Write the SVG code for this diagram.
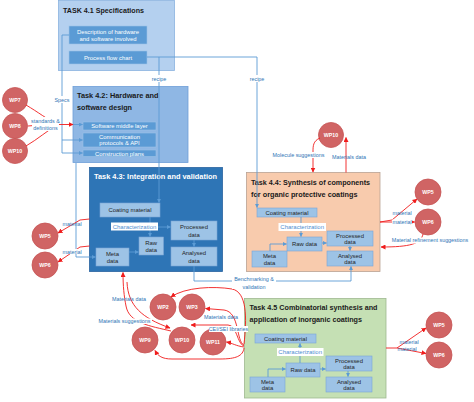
<svg xmlns="http://www.w3.org/2000/svg" width="474" height="402" viewBox="0 0 474 402">
<style>
text{font-family:"Liberation Sans",Arial,sans-serif}
.title{font-weight:bold;font-size:7.4px;fill:#1a1a1a}
.titlew{font-weight:bold;font-size:7.4px;fill:#ffffff}
.ib{fill:#5b9bd5;stroke:#9dc3e6;stroke-width:0.6}
.ibt{font-size:5.9px;fill:#ffffff;text-anchor:middle}
.lb{fill:#9dc3e6;stroke:#7aa6d6;stroke-width:0.6}
.lbt{font-size:5.9px;fill:#1f1f1f;text-anchor:middle}
.ch{fill:#ffffff}
.cht{font-size:6px;fill:#4f8fd0;text-anchor:middle}
.wp{fill:#d06464;stroke:#c65454;stroke-width:0.8}
.wpt{font-size:5.3px;font-weight:bold;fill:#ffffff;text-anchor:middle}
.bl{fill:none;stroke:#5b9bd5;stroke-width:0.9}
.rd{fill:none;stroke:#f01c1c;stroke-width:0.9}
.lab{font-size:5.4px;fill:#2e75b6;text-anchor:middle}
.bg{fill:#ffffff}
</style>
<defs>
<marker id="ab" viewBox="0 0 10 10" refX="9" refY="5" markerWidth="4" markerHeight="4" markerUnits="userSpaceOnUse" orient="auto"><path d="M0,0 L10,5 L0,10 z" fill="#5b9bd5"/></marker>
<marker id="ar" viewBox="0 0 10 10" refX="9" refY="5" markerWidth="5" markerHeight="5" markerUnits="userSpaceOnUse" orient="auto"><path d="M0,0 L10,5 L0,10 z" fill="#f01c1c"/></marker>
</defs>
<rect width="474" height="402" fill="#ffffff"/>

<g id="task41">
<rect x="58.5" y="0.5" width="116" height="70" fill="#b4d0ef" stroke="#8ab2df" stroke-width="0.8"/>
<text class="title" x="63" y="13" textLength="81" lengthAdjust="spacingAndGlyphs">TASK 4.1 Specifications</text>
<rect class="ib" x="69" y="26" width="78" height="18"/>
<text class="ibt" x="108" y="33.5">Description of hardware</text>
<text class="ibt" x="108" y="41.3">and software involved</text>
<rect class="ib" x="69" y="51" width="78" height="13"/>
<text class="ibt" x="108" y="59.6">Process flow chart</text>
</g>

<g id="task42">
<rect x="73" y="86.5" width="115" height="76" fill="#8fb7e4" stroke="#6e9fd8" stroke-width="0.8"/>
<text class="title" x="77" y="97.5" textLength="81.5" lengthAdjust="spacingAndGlyphs">Task 4.2: Hardware and</text>
<text class="title" x="77" y="109.5" textLength="55" lengthAdjust="spacingAndGlyphs">software design</text>
<rect class="ib" x="83" y="122" width="73" height="8"/>
<text class="ibt" x="119.5" y="128.3">Software middle layer</text>
<rect class="ib" x="83" y="133" width="73" height="14"/>
<text class="ibt" x="119.5" y="139">Communication</text>
<text class="ibt" x="119.5" y="145.4">protocols &amp; API</text>
<rect class="ib" x="83" y="150" width="73" height="6.5"/>
<text class="ibt" x="119.5" y="155.6">Construction plans</text>
</g>

<g id="task43">
<rect x="89.5" y="167.5" width="133" height="104" fill="#2e75b6" stroke="#2a64a0" stroke-width="0.8"/>
<text class="titlew" x="94" y="178.6" textLength="123" lengthAdjust="spacingAndGlyphs">Task 4.3: Integration and validation</text>
<rect class="lb" x="100" y="203" width="60" height="14" stroke="none"/>
<text class="lbt" x="130" y="212.2">Coating material</text>
<rect class="lb" x="139" y="237" width="24.5" height="18" stroke="none"/>
<text class="lbt" x="151.2" y="244.5">Raw</text>
<text class="lbt" x="151.2" y="251.7">data</text>
<rect class="lb" x="171" y="221" width="46" height="19" stroke="none"/>
<text class="lbt" x="194" y="229">Processed</text>
<text class="lbt" x="194" y="236.5">data</text>
<rect class="lb" x="171" y="247" width="46" height="19" stroke="none"/>
<text class="lbt" x="194" y="255">Analysed</text>
<text class="lbt" x="194" y="262.5">data</text>
<rect class="lb" x="96" y="248" width="33" height="18" stroke="none"/>
<text class="lbt" x="112.5" y="255.5">Meta</text>
<text class="lbt" x="112.5" y="263">data</text>
</g>

<g id="task44">
<rect x="246.5" y="172.5" width="133.5" height="99" fill="#f8cbad" stroke="#b8a293" stroke-width="0.8"/>
<text class="title" x="251" y="185" textLength="119" lengthAdjust="spacingAndGlyphs">Task 4.4: Synthesis of components</text>
<text class="title" x="251" y="196.5" textLength="106.5" lengthAdjust="spacingAndGlyphs">for organic protective coatings</text>
<rect class="lb" x="257" y="208" width="60" height="9"/>
<text class="lbt" x="287" y="214.8">Coating material</text>
<rect class="lb" x="287" y="237" width="35" height="14"/>
<text class="lbt" x="304.5" y="246">Raw data</text>
<rect class="lb" x="327" y="231" width="46" height="15"/>
<text class="lbt" x="350" y="237.5">Processed</text>
<text class="lbt" x="350" y="244">data</text>
<rect class="lb" x="252" y="251" width="35" height="16"/>
<text class="lbt" x="269.5" y="257.7">Meta</text>
<text class="lbt" x="269.5" y="264.7">data</text>
<rect class="lb" x="327" y="251" width="46" height="15"/>
<text class="lbt" x="350" y="257.5">Analysed</text>
<text class="lbt" x="350" y="264.2">data</text>
</g>

<g id="task45">
<rect x="244.5" y="298.5" width="141.5" height="99.5" fill="#c5e0b4" stroke="#9fb890" stroke-width="0.8"/>
<text class="title" x="249.5" y="310" textLength="128" lengthAdjust="spacingAndGlyphs">Task 4.5 Combinatorial synthesis and</text>
<text class="title" x="249.5" y="321.5" textLength="112.5" lengthAdjust="spacingAndGlyphs">application of inorganic coatings</text>
<rect class="lb" x="255" y="334" width="61" height="9"/>
<text class="lbt" x="285.5" y="340.8">Coating material</text>
<rect class="lb" x="286" y="363" width="34" height="14"/>
<text class="lbt" x="303" y="372">Raw data</text>
<rect class="lb" x="326" y="356" width="46" height="15"/>
<text class="lbt" x="349" y="362.5">Processed</text>
<text class="lbt" x="349" y="369.2">data</text>
<rect class="lb" x="250" y="377" width="35" height="15"/>
<text class="lbt" x="267.5" y="383.5">Meta</text>
<text class="lbt" x="267.5" y="390.3">data</text>
<rect class="lb" x="326" y="377" width="46" height="15"/>
<text class="lbt" x="349" y="383.5">Analysed</text>
<text class="lbt" x="349" y="390.3">data</text>
</g>

<g id="wp7-left"><circle class="wp" cx="15" cy="100" r="12.5"/><text class="wpt" x="15" y="102">WP7</text></g>
<g id="wp8-left"><circle class="wp" cx="15" cy="126" r="12.5"/><text class="wpt" x="15" y="128">WP8</text></g>
<g id="wp10-left"><circle class="wp" cx="15" cy="151" r="12.5"/><text class="wpt" x="15" y="153">WP10</text></g>
<g id="wp10-top"><circle class="wp" cx="331" cy="135" r="12.5"/><text class="wpt" x="331" y="137">WP10</text></g>
<g id="wp5-right"><circle class="wp" cx="428" cy="192" r="13"/><text class="wpt" x="428" y="194">WP5</text></g>
<g id="wp6-right"><circle class="wp" cx="428" cy="222" r="13"/><text class="wpt" x="428" y="224">WP6</text></g>
<g id="wp5-left"><circle class="wp" cx="45" cy="236" r="13"/><text class="wpt" x="45" y="238">WP5</text></g>
<g id="wp6-left"><circle class="wp" cx="45" cy="265" r="13"/><text class="wpt" x="45" y="267">WP6</text></g>
<g id="wp2"><circle class="wp" cx="163" cy="307" r="13"/><text class="wpt" x="163" y="309">WP2</text></g>
<g id="wp3"><circle class="wp" cx="192" cy="307" r="13"/><text class="wpt" x="192" y="309">WP3</text></g>
<g id="wp9"><circle class="wp" cx="145" cy="340" r="13"/><text class="wpt" x="145" y="342">WP9</text></g>
<g id="wp10-bottom"><circle class="wp" cx="182" cy="340" r="13"/><text class="wpt" x="182" y="342">WP10</text></g>
<g id="wp11"><circle class="wp" cx="213" cy="342" r="13"/><text class="wpt" x="213" y="344">WP11</text></g>
<g id="wp5-br"><circle class="wp" cx="439" cy="325" r="13"/><text class="wpt" x="439" y="327">WP5</text></g>
<g id="wp6-br"><circle class="wp" cx="439" cy="355" r="13"/><text class="wpt" x="439" y="357">WP6</text></g>

<g id="connectors">
<!-- blue -->
<path class="bl" d="M69,35 H62 V153 H82.5" marker-end="url(#ab)"/>
<path class="bl" d="M62,140 H82.5" marker-end="url(#ab)"/>
<path class="bl" d="M73,124.5 H82.5" marker-end="url(#ab)"/>
<path class="bl" d="M147,57 H257 V207.5" marker-end="url(#ab)"/>
<path class="bl" d="M159,57 V202.5" marker-end="url(#ab)"/>
<path class="bl" d="M76,163 V257 H95.5" marker-end="url(#ab)"/>
<path class="bl" d="M194,266 V281 H351 V266.5" marker-end="url(#ab)"/>
<path class="bl" d="M150,217 V236.5" marker-end="url(#ab)"/>
<path class="bl" d="M158,227 H170.5" marker-end="url(#ab)"/>
<path class="bl" d="M129,252 H138.5" marker-end="url(#ab)"/>
<path class="bl" d="M194,240 V246.5" marker-end="url(#ab)"/>
<path class="bl" d="M301,217 V236.5" marker-end="url(#ab)"/>
<path class="bl" d="M270,251 V244 H286.5" marker-end="url(#ab)"/>
<path class="bl" d="M322,243 H326.5" marker-end="url(#ab)"/>
<path class="bl" d="M350,246 V250.5" marker-end="url(#ab)"/>
<path class="bl" d="M300,363 V343.5" marker-end="url(#ab)"/>
<path class="bl" d="M268,377 V369 H285.5" marker-end="url(#ab)"/>
<path class="bl" d="M320,369 H325.5" marker-end="url(#ab)"/>
<path class="bl" d="M348,371 V376.5" marker-end="url(#ab)"/>
<!-- red -->
<path class="rd" d="M26,105 C38,112 48,120 58,124.5"/>
<path class="rd" d="M28,126 C40,125 50,124.5 58,124.5"/>
<path class="rd" d="M26,146 C38,139 48,130 58,124.5"/>
<path class="rd" d="M58,124.5 H73" stroke-width="1.6" marker-end="url(#ar)"/>
<path class="rd" d="M320,138 C313,141 313,146 313,152 V172" marker-end="url(#ar)"/>
<path class="rd" d="M346,172.5 V137.5" marker-end="url(#ar)"/>
<path class="rd" d="M380,222 L392,220 L417,199" marker-end="url(#ar)"/>
<path class="rd" d="M380,222 H414.5" marker-end="url(#ar)"/>
<path class="rd" d="M423,234 C421,244 410,247 381,247" marker-end="url(#ar)"/>
<path class="rd" d="M89.5,219 L80,220 L58,233" marker-end="url(#ar)"/>
<path class="rd" d="M89.5,246 L80,247 L58,262" marker-end="url(#ar)"/>
<path class="rd" d="M244,344 C247,318 247,292 232,289 C214,286 185,287 171,297" marker-end="url(#ar)"/>
<path class="rd" d="M244,345 C236,342 240,312 224,310 L205.5,308.5" marker-end="url(#ar)"/>
<path class="rd" d="M244,346 C237,344 237,325 228,325 L191,325" marker-end="url(#ar)"/>
<path class="rd" d="M244,347 C236,346 232,343 226.5,342" marker-end="url(#ar)"/>
<path class="rd" d="M244,348 C243,356 236,359 220,359 L172,359 C162,359 158,356 155,350.5" marker-end="url(#ar)"/>
<path class="rd" d="M171,331 C150,326 129,323 126,306 C124,296 123,286 123,272.5" marker-end="url(#ar)"/>
<path class="rd" d="M127,282 C128,306 142,318 170,328" marker-end="url(#ar)"/>
<path class="rd" d="M386,348 H397 L426,328" marker-end="url(#ar)"/>
<path class="rd" d="M397,348 L426,353.5" marker-end="url(#ar)"/>
</g>

<g id="characterization-43"><rect class="ch" x="111" y="222.5" width="47" height="8"/><text class="cht" x="134.5" y="228.8">Characterization</text></g>
<g id="characterization-44"><rect class="ch" x="278.5" y="223" width="47.5" height="8"/><text class="cht" x="302.2" y="229.3">Characterization</text></g>
<g id="characterization-45"><rect class="ch" x="277" y="348" width="46.5" height="8"/><text class="cht" x="300.2" y="354.3">Characterization</text></g>

<g id="labels">
<rect class="bg" x="54" y="96" width="16" height="7"/><text class="lab" x="62" y="102">Specs</text>
<rect class="bg" x="150" y="75" width="18" height="7"/><text class="lab" x="159" y="80.8">recipe</text>
<rect class="bg" x="248" y="75" width="18" height="7"/><text class="lab" x="257" y="80.5">recipe</text>
<rect class="bg" x="32" y="117" width="27" height="14"/>
<text class="lab" x="45.5" y="122.8" font-size="5px">standards &amp;</text>
<text class="lab" x="45.5" y="129.8" font-size="5px">definitions</text>
<text class="lab" x="72" y="226">material</text>
<rect class="bg" x="61" y="249" width="21" height="5"/><text class="lab" x="72" y="253.5">material</text>
<rect class="bg" x="232" y="275" width="44" height="14"/>
<text class="lab" x="254" y="281">Benchmarking &amp;</text>
<text class="lab" x="254" y="289">validation</text>
<rect class="bg" x="271" y="152" width="55" height="6"/><text class="lab" x="298.5" y="157">Molecule suggestions</text>
<text class="lab" x="349" y="158.5">Materials data</text>
<text class="lab" x="402" y="214.5">material</text>
<rect class="bg" x="392" y="219.5" width="20" height="5"/><text class="lab" x="402" y="223.8">material</text>
<rect class="bg" x="390" y="237.5" width="80" height="6"/><text class="lab" x="430" y="242.2">Material refinement suggestions</text>
<text class="lab" x="129" y="301">Materials data</text>
<rect class="bg" x="97" y="318.5" width="55" height="5.5"/><text class="lab" x="124.5" y="323">Materials suggestions</text>
<text class="lab" x="221" y="318.5">Materials data</text>
<rect class="bg" x="209" y="326" width="39" height="6"/><text class="lab" x="228.5" y="330.5">CEI/SEI libraries</text>
<text class="lab" x="409" y="344">material</text>
<text class="lab" x="407" y="351">material</text>
</g>
</svg>
